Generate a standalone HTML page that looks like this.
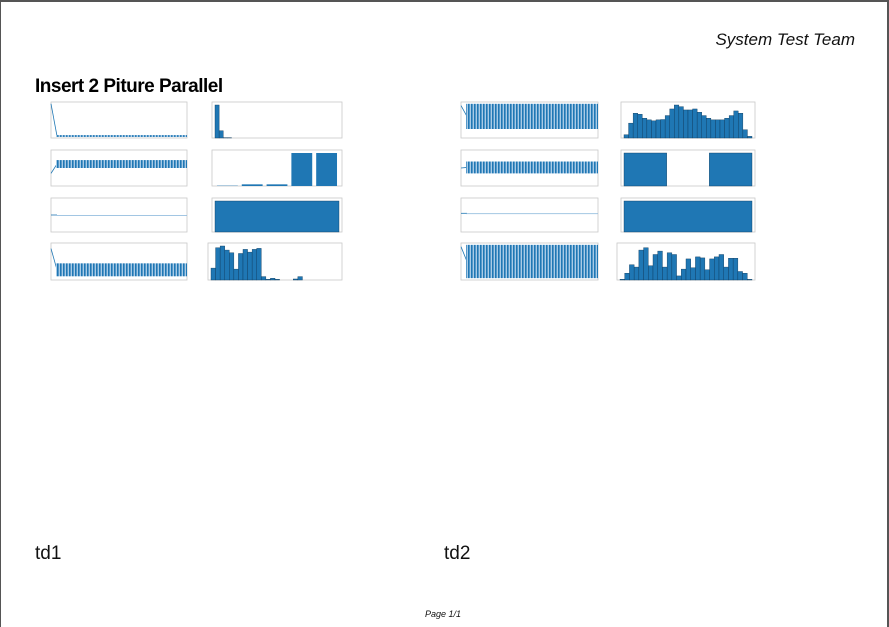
<!DOCTYPE html>
<html><head><meta charset="utf-8"><style>
html,body{margin:0;padding:0;background:#fff}
#pg{position:relative;width:889px;height:627px;overflow:hidden;background:#fff;font-family:"Liberation Sans",sans-serif;box-sizing:border-box;border-top:2px solid #555;border-left:1px solid #555;border-right:2px solid #555}
.t{position:absolute;white-space:nowrap}
</style></head><body>
<div id="pg">
<div class="t" style="right:32px;top:28px;font-size:17px;font-style:italic;color:#111">System Test Team</div>
<div class="t" style="left:34px;top:74px;font-size:19px;font-weight:bold;color:#000;letter-spacing:-0.5px">Insert 2 Piture Parallel</div>
<div class="t" style="left:34px;top:541px;font-size:19px;color:#111">td1</div>
<div class="t" style="left:443px;top:541px;font-size:19px;color:#111">td2</div>
<div class="t" style="left:424px;top:607px;font-size:9px;font-style:italic;color:#111">Page 1/1</div>
<svg id="ch" width="889" height="627" style="position:absolute;left:-1px;top:-2px">
<defs><pattern id="st" width="3" height="4" patternUnits="userSpaceOnUse"><rect width="3" height="4" fill="#a9cbe6"/><rect width="1.6" height="4" fill="#1f77b4"/></pattern></defs>
</svg>
</div>
<script>
// histogram values (relative heights 0..1)
const histL1=[1,0.22,0.01,0.01,0,0,0,0,0,0,0,0,0,0,0,0,0,0,0,0,0,0,0,0,0,0,0,0,0,0];
const histL2=[0.01,0.05,0.05,1,1];
const histL3=[1];
const histL4=[0.35,0.95,1,0.88,0.8,0.32,0.78,0.9,0.82,0.9,0.93,0.1,0.02,0.05,0.02,0,0,0,0.03,0.1,0,0,0,0,0,0,0,0];
const histR1=[0.1,0.45,0.75,0.72,0.6,0.55,0.52,0.55,0.56,0.68,0.88,1,0.95,0.85,0.85,0.88,0.78,0.68,0.6,0.55,0.55,0.55,0.6,0.68,0.82,0.75,0.25,0.05];
const histR2=[1,0,1];
const histR3=[1];
const histR4=[0.02,0.2,0.45,0.38,0.88,0.95,0.42,0.75,0.85,0.38,0.8,0.75,0.12,0.32,0.62,0.36,0.68,0.65,0.3,0.62,0.68,0.75,0.38,0.64,0.64,0.25,0.2,0.02];
// line bands: [start-value, band-low, band-high] in fraction of axis
const lineL1=[0.95,0.03,0.08];
const lineL2=[0.35,0.5,0.72];
const lineL3=[0.5,0.5,0.5];
const lineL4=[0.85,0.1,0.45];
const lineR1=[0.9,0.25,0.95];
const lineR2=[0.5,0.35,0.68];
const lineR3=[0.55,0.55,0.55];
const lineR4=[0.9,0.05,0.95];
const svg=document.getElementById('ch');const NS='http://www.w3.org/2000/svg';
function el(t,a,p){const e=document.createElementNS(NS,t);for(const k in a)e.setAttribute(k,a[k]);(p||svg).appendChild(e);return e;}
function frame(x0,y0,x1,y1){const r=el('rect',{x:x0,y:y0,width:x1-x0,height:y1-y0,fill:'#fff',stroke:'#c8c8c8','stroke-width':0.8});
}
function hist(x0,y0,x1,y1,vals,gap){frame(x0,y0,x1,y1);const px0=x0+3,px1=x1-3,w=(px1-px0)/vals.length;
vals.forEach((v,i)=>{if(v<=0)return;const h=(y1-y0-3)*v;const r=el('rect',{x:px0+i*w+(gap?w*0.08:0),y:y1-h,width:w*(gap?0.84:1),height:h,fill:'#1f77b4',stroke:gap?'none':'#0d3a5c','stroke-width':0.4});
});}
function line(x0,y0,x1,y1,d){frame(x0,y0,x1,y1);const H=y1-y0,Y=f=>y1-f*H;
const p=el('path',{d:`M${x0} ${Y(d[0])} L${x0+6} ${Y((d[1]+d[2])/2)}`,stroke:'#1f77b4',fill:'none','stroke-width':0.8});

const thin=Y(d[1])-Y(d[2])<1;
const b=el('rect',{x:x0+5,y:Y(d[2]),width:x1-x0-5,height:Math.max(0.8,Y(d[1])-Y(d[2])),fill:thin?'#8cb8dc':'url(#st)'});
}
// left image
line(51,102,187,138,lineL1);hist(212,102,342,138,histL1,false);
line(51,150,187,186,lineL2);hist(212,150,342,186,histL2,true);
line(51,198,187,232,lineL3);hist(212,198,342,232,histL3,false);
line(51,243,187,280,lineL4);hist(208,243,342,280,histL4,false);
// right image
line(461,102,598,138,lineR1);hist(621,102,755,138,histR1,false);
line(461,150,598,186,lineR2);hist(621,150,755,186,histR2,false);
line(461,198,598,232,lineR3);hist(621,198,755,232,histR3,false);
line(461,243,598,280,lineR4);hist(617,243,755,280,histR4,false);
</script>
</body></html>
